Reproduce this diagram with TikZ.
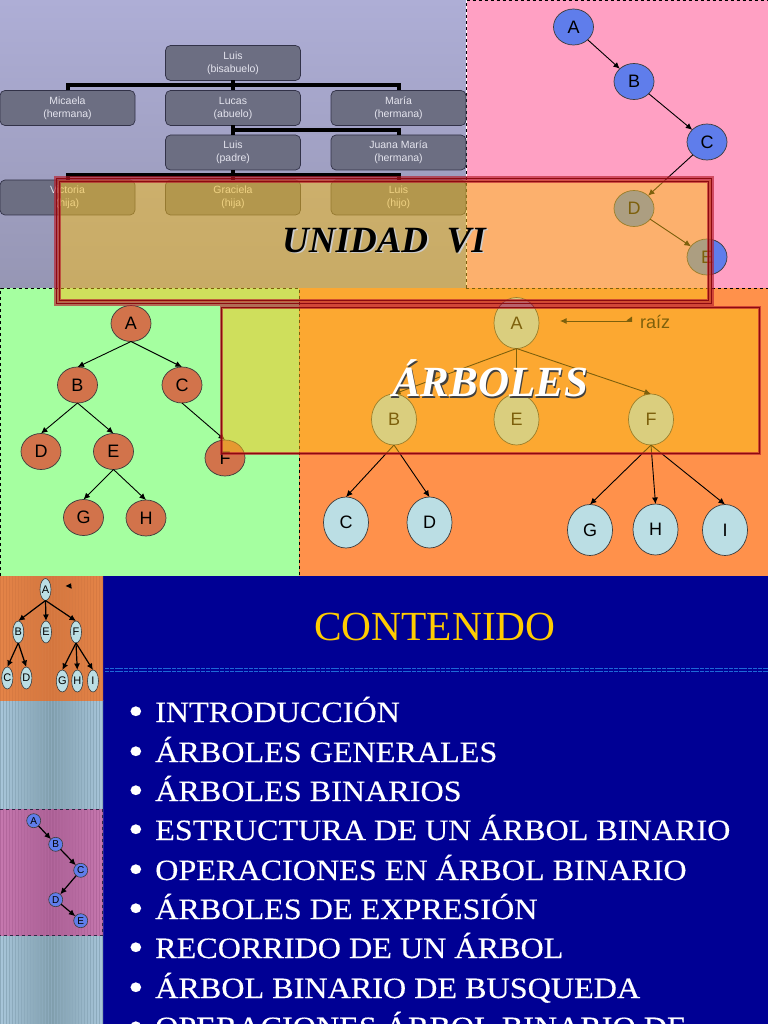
\documentclass[tikz,border=0pt]{standalone}
\usepackage{fontspec}
\usepackage{tikz}
\usetikzlibrary{shapes.geometric,patterns,arrows.meta}
\setmainfont{Liberation Sans}
\newfontfamily\slidefont{Liberation Serif}
\newfontfamily\itemfont[FakeStretch=1.09,FakeBold=0.35]{Liberation Serif}
\newcommand{\shadowed}[3]{\leavevmode\rlap{\kern1.6pt\raisebox{-1.6pt}{\textcolor{#1}{#3}}}\textcolor{#2}{#3}}
\newcommand{\listitem}[1]{\makebox[27pt][l]{\raisebox{-2.5pt}{\fontsize{40}{40}\selectfont\textbullet}}#1}
\definecolor{lavtop}{RGB}{174,174,214}
\definecolor{lavbot}{RGB}{150,150,180}
\definecolor{pinkbg}{RGB}{255,160,195}
\definecolor{greenbg}{RGB}{165,255,160}
\definecolor{orangebg}{RGB}{255,145,75}
\definecolor{orgfill}{RGB}{108,110,130}
\definecolor{orgline}{RGB}{50,50,72}
\definecolor{orgtext}{RGB}{228,228,238}
\definecolor{blueball}{RGB}{95,125,235}
\definecolor{brickball}{RGB}{210,115,75}
\definecolor{iceball}{RGB}{187,222,228}
\definecolor{ballline}{RGB}{60,60,60}
\definecolor{overlay}{RGB}{250,192,25}
\definecolor{boxred}{RGB}{185,30,45}
\definecolor{boxdark}{RGB}{140,10,15}
\definecolor{navy}{RGB}{0,0,148}
\definecolor{gold}{RGB}{255,204,0}
\definecolor{rulea}{RGB}{30,105,215}
\definecolor{steeledge}{RGB}{168,198,218}
\definecolor{steelmid}{RGB}{128,158,173}
\definecolor{steelline}{RGB}{140,170,188}
\definecolor{rustedge}{RGB}{228,132,72}
\definecolor{rustmid}{RGB}{212,118,62}
\definecolor{rustline}{RGB}{215,122,66}
\definecolor{plumedge}{RGB}{198,120,175}
\definecolor{plummid}{RGB}{170,95,148}
\definecolor{plumline}{RGB}{178,102,156}
\definecolor{stripdark}{RGB}{50,40,70}
\tikzset{
  orgbox/.style={draw=orgline,fill=orgfill,rounded corners=5pt,line width=0.7pt,minimum width=135pt,minimum height=35pt,
    inner sep=0pt,outer sep=0pt,text=orgtext,align=center,font=\fontsize{10.5}{13}\selectfont,
    execute at begin node={\rule{0pt}{14pt}}},
  orgwire/.style={line width=4pt,black},
  ball/.style={ellipse,draw=ballline,line width=0.7pt,inner sep=0pt,outer sep=0pt,minimum width=40pt,minimum height=36pt,
    font=\fontsize{18}{20}\selectfont},
  tallball/.style={ball,fill=iceball,minimum width=45pt,minimum height=51pt},
  miniball/.style={ball,fill=iceball,line width=0.6pt,minimum width=11pt,minimum height=22pt,font=\fontsize{11}{12}\selectfont},
  miniblue/.style={ball,fill=blueball,line width=0.6pt,minimum width=14pt,minimum height=14pt,font=\fontsize{10}{12}\selectfont},
  edge/.style={-{Latex[length=6.5pt,width=6pt]},line width=0.9pt,black},
  miniedge/.style={-{Latex[length=6.5pt,width=6pt]},line width=1.2pt,black},
  titlebox/.style={rectangle,fill=overlay,fill opacity=0.5,text opacity=1,draw=boxred,draw opacity=0.65,inner sep=0pt,outer sep=0pt},
  itemtext/.style={anchor=base west,inner sep=0pt,text=white,font=\itemfont\fontsize{29.5}{32}\selectfont},
}
\begin{document}
\begin{tikzpicture}[x=1pt,y=-1pt]
	\useasboundingbox (0,0) rectangle (768,1024);
	% backgrounds
	\fill[top color=lavtop,bottom color=lavbot] (0,0) rectangle (466,288);
	\fill[pinkbg] (466,0) rectangle (768,288);
	\fill[greenbg] (0,288) rectangle (299,576);
	\fill[orangebg] (299,288) rectangle (768,576);
	\draw[white,line width=0.8pt] (466,0) -- (466,288);
	\draw[dashed,line width=0.8pt] (466,288) -- (466,0.5) -- (768,0.5);
	\draw[dashed,line width=0.8pt] (466,288) -- (768,288);
	\draw[dashed,line width=0.8pt] (0.5,576) -- (0.5,288) -- (299,288) -- (299,576);
	% family tree
	\node[orgbox] (luis) at (233,63) {Luis\\(bisabuelo)};
	\node[orgbox] (micaela) at (67.5,108) {Micaela\\(hermana)};
	\node[orgbox] (lucas) at (233,108) {Lucas\\(abuelo)};
	\node[orgbox] (maria) at (398.5,108) {María\\(hermana)};
	\node[orgbox] (padre) at (233,152.5) {Luis\\(padre)};
	\node[orgbox] (juana) at (398.5,152.5) {Juana María\\(hermana)};
	\node[orgbox] (victoria) at (67.5,197.5) {Victoria\\(hija)};
	\node[orgbox] (graciela) at (233,197.5) {Graciela\\(hija)};
	\node[orgbox] (hijo) at (398.5,197.5) {Luis\\(hijo)};
	\draw[orgwire] (luis.south) -- (lucas.north);
	\draw[orgwire] (micaela.north) -- ++(0,-5) -| (maria.north);
	\draw[orgwire] (lucas.south) -- (padre.north);
	\draw[orgwire] (padre.north) -- ++(0,-5) -| (juana.north);
	\draw[orgwire] (padre.south) -- ++(0,5);
	\draw[orgwire] (victoria.north) -- ++(0,-5) -| (hijo.north);
	\draw[orgwire] (graciela.north) -- ++(0,-5);
	% chain
	\node[ball,fill=blueball] (pa) at (573.5,27) {A};
	\node[ball,fill=blueball] (pb) at (634,81.5) {B};
	\node[ball,fill=blueball] (pc) at (707,142) {C};
	\node[ball,fill=blueball] (pd) at (634,208.5) {D};
	\node[ball,fill=blueball] (pe) at (707,257) {E};
	\draw[edge] (pa) -- (pb);
	\draw[edge] (pb) -- (pc);
	\draw[edge] (pc) -- (pd);
	\draw[edge] (pd) -- (pe);
	% binary tree
	\node[ball,fill=brickball] (ga) at (131,323.5) {A};
	\node[ball,fill=brickball] (gb) at (77.5,385) {B};
	\node[ball,fill=brickball] (gc) at (182,385) {C};
	\node[ball,fill=brickball] (gd) at (41,451.5) {D};
	\node[ball,fill=brickball] (ge) at (113.5,451.5) {E};
	\node[ball,fill=brickball] (gf) at (225,458) {F};
	\node[ball,fill=brickball] (gg) at (83.5,517.5) {G};
	\node[ball,fill=brickball] (gh) at (146,518) {H};
	\draw[edge] (ga.south) -- (gb.north);
	\draw[edge] (ga.south) -- (gc.north);
	\draw[edge] (gb.south) -- (gd.north);
	\draw[edge] (gb.south) -- (ge.north);
	\draw[edge] (gc.south) -- (gf.north);
	\draw[edge] (ge.south) -- (gg.north);
	\draw[edge] (ge.south) -- (gh.north);
	% general tree
	\node[tallball] (oa) at (516.5,323) {A};
	\node[tallball] (ob) at (394,419.5) {B};
	\node[tallball] (oe) at (516.5,419.5) {E};
	\node[tallball] (of) at (651,419.5) {F};
	\node[tallball] (oc) at (346,522.5) {C};
	\node[tallball] (od) at (429.5,522.5) {D};
	\node[tallball] (og) at (590,530) {G};
	\node[tallball] (oh) at (655.5,529.5) {H};
	\node[tallball] (oi) at (725,530) {I};
	\draw[edge] (oa.south) -- (ob.north);
	\draw[edge] (oa.south) -- (oe.north);
	\draw[edge] (oa.south) -- (of.north);
	\draw[edge] (ob.south) -- (oc.north);
	\draw[edge] (ob.south) -- (od.north);
	\draw[edge] (of.south) -- (og.north);
	\draw[edge] (of.south) -- (oh.north);
	\draw[edge] (of.south) -- (oi.north);
	\node[inner sep=0pt,font=\fontsize{18}{20}\selectfont,anchor=west] (raiz) at (640,322) {raíz};
	\coordinate (raizstart) at (632,321);
	\coordinate (raizend) at (560,321);
	\draw[edge] (raizstart) -- (raizend);
	\fill (632,316.5) -- (632,322) -- (626.5,320.5) -- cycle;
	% titles
	\node[titlebox,line width=7pt,minimum width=653pt,minimum height=122pt,font=\slidefont\bfseries\itshape\fontsize{37}{40}\selectfont] (unidad) at (384,241) {\shadowed{white!60!gray}{black}{UNIDAD\ \ VI}};
	\draw[boxdark,line width=1.2pt] ([shift={(-1.2,-1.2)}]unidad.north west) rectangle ([shift={(1.2,1.2)}]unidad.south east);
	\draw[boxdark,line width=1.2pt] ([shift={(1.8,1.8)}]unidad.north west) rectangle ([shift={(-1.8,-1.8)}]unidad.south east);
	\node[titlebox,line width=3pt,minimum width=538pt,minimum height=146pt,font=\slidefont\bfseries\itshape\fontsize{43}{46}\selectfont] (arboles) at (490,380) {\raisebox{3pt}{\shadowed{black!75}{white}{ÁRBOLES}}};
	\draw[boxdark,line width=0.7pt] (arboles.north west) rectangle (arboles.south east);
	% left strip
	\fill[navy] (103,576) rectangle (768,1024);
	\fill[left color=steeledge,right color=steeledge,middle color=steelmid] (0,700) rectangle (103,1024);
	\fill[pattern=vertical lines,pattern color=steelline] (0,700) rectangle (103,1024);
	\fill[left color=rustedge,right color=rustedge,middle color=rustmid] (0,576) rectangle (103,700);
	\fill[pattern=vertical lines,pattern color=rustline] (0,576) rectangle (103,700);
	\fill[left color=plumedge,right color=plumedge,middle color=plummid] (0,809) rectangle (103,935);
	\fill[pattern=vertical lines,pattern color=plumline] (0,809) rectangle (103,935);
	\draw[dashed,line width=0.9pt,stripdark] (0,809) -- (102.5,809) -- (102.5,935) -- (0,935);
	% small general tree
	\node[miniball] (ta) at (45.5,589.5) {A};
	\node[miniball] (tb) at (18.3,632) {B};
	\node[miniball] (te) at (46,632) {E};
	\node[miniball] (tf) at (76,632) {F};
	\node[miniball] (tc) at (7.3,678) {C};
	\node[miniball] (td) at (26.3,678) {D};
	\node[miniball] (tg) at (62.3,681) {G};
	\node[miniball] (th) at (77.3,681) {H};
	\node[miniball] (ti) at (93,681) {I};
	\draw[miniedge] (ta.south) -- (tb.north);
	\draw[miniedge] (ta.south) -- (te.north);
	\draw[miniedge] (ta.south) -- (tf.north);
	\draw[miniedge] (tb.south) -- (tc.north);
	\draw[miniedge] (tb.south) -- (td.north);
	\draw[miniedge] (tf.south) -- (tg.north);
	\draw[miniedge] (tf.south) -- (th.north);
	\draw[miniedge] (tf.south) -- (ti.north);
	\fill (65.7,586) -- (71,583.3) -- (71.7,588.7) -- cycle;
	% small chain
	\node[miniblue] (ma) at (33.7,820.7) {A};
	\node[miniblue] (mb) at (55.7,844.3) {B};
	\node[miniblue] (mc) at (80.7,870.3) {C};
	\node[miniblue] (md) at (55.7,899.7) {D};
	\node[miniblue] (me) at (80.7,920.7) {E};
	\draw[miniedge] (ma) -- (mb);
	\draw[miniedge] (mb) -- (mc);
	\draw[miniedge] (mc) -- (md);
	\draw[miniedge] (md) -- (me);
	% contents
	\node[text=gold,inner sep=0pt,font=\slidefont\fontsize{41.4}{44}\selectfont] (contenido) at (435,627) {CONTENIDO};
	\draw[rulea,line width=1.8pt,dash pattern=on 4pt off 0.8pt] (105,668.5) -- (768,668.5);
	\draw[rulea,line width=1.8pt,dash pattern=on 4pt off 0.8pt] (105,671.5) -- (768,671.5);
	\node[itemtext] (item1) at (128,722) {\listitem{INTRODUCCIÓN}};
	\node[itemtext] (item2) at (128,762) {\listitem{ÁRBOLES GENERALES}};
	\node[itemtext] (item3) at (128,801) {\listitem{ÁRBOLES BINARIOS}};
	\node[itemtext] (item4) at (128,840) {\listitem{ESTRUCTURA DE UN ÁRBOL BINARIO}};
	\node[itemtext] (item5) at (128,880) {\listitem{OPERACIONES EN ÁRBOL BINARIO}};
	\node[itemtext] (item6) at (128,919) {\listitem{ÁRBOLES DE EXPRESIÓN}};
	\node[itemtext] (item7) at (128,958) {\listitem{RECORRIDO DE UN ÁRBOL}};
	\node[itemtext] (item8) at (128,998) {\listitem{ÁRBOL BINARIO DE BUSQUEDA}};
	\node[itemtext] (item9) at (128,1037) {\listitem{OPERACIONES ÁRBOL BINARIO DE}};
\end{tikzpicture}
\end{document}
